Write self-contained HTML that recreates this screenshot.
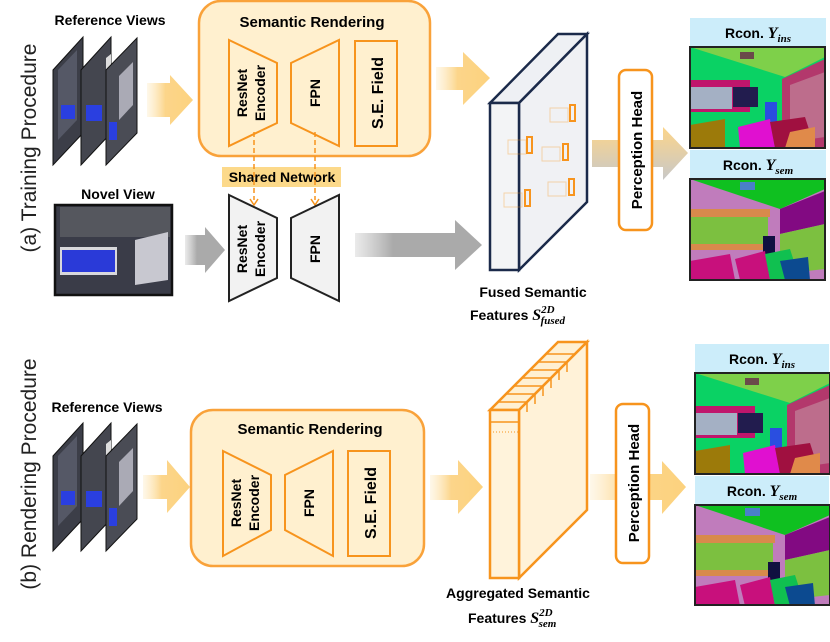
<!DOCTYPE html>
<html><head><meta charset="utf-8"><style>
html,body{margin:0;padding:0;background:#fff}
svg{display:block}
text{font-family:"Liberation Sans",sans-serif}
.b{font-weight:bold}
</style></head><body>
<svg width="830" height="642" viewBox="0 0 830 642" xmlns="http://www.w3.org/2000/svg">
<defs>
<linearGradient id="ya" x1="0" x2="1"><stop offset="0" stop-color="#fde7b8" stop-opacity="0.3"/><stop offset="0.4" stop-color="#fcd58a"/><stop offset="1" stop-color="#fcd27e"/></linearGradient>
<linearGradient id="ga" x1="0" x2="1"><stop offset="0" stop-color="#bbb" stop-opacity="0.3"/><stop offset="0.3" stop-color="#aaa"/><stop offset="1" stop-color="#aaa"/></linearGradient>
<linearGradient id="yg" x1="0" x2="0" y1="0" y2="1"><stop offset="0" stop-color="#fcd58a"/><stop offset="1" stop-color="#c8c8c8"/></linearGradient>
<g id="stack">
<polygon points="0,60 30,27 30,123 0,155" fill="#3c3e48" stroke="#111"/>
<polygon points="5,60 24,40 24,110 5,130" fill="#555866"/>
<rect x="8" y="95" width="14" height="14" fill="#2a3fe0"/>
<polygon points="28,60 58,27 58,123 28,155" fill="#44464f" stroke="#111"/>
<rect x="33" y="95" width="16" height="16" fill="#2a3fe0"/>
<polygon points="53,48 58,44 58,60 53,64" fill="#ddd"/>
<polygon points="53,60 84,28 84,123 53,155" fill="#4a4c55" stroke="#111"/>
<polygon points="66,66 80,52 80,95 66,110" fill="#aaaab5"/>
<rect x="56" y="112" width="8" height="18" fill="#2a3fe0"/>
</g>
<g id="seg1">
<rect width="135" height="101" fill="#0ad264"/>
<polygon points="0,0 135,0 135,10 95,30 0,0" fill="#7ed04a"/>
<polygon points="92,32 135,12 135,101 92,101" fill="#b3386c"/>
<polygon points="100,38 135,25 135,90 100,95" fill="#bd6d8c"/>
<rect x="0" y="33" width="60" height="32" fill="#c0166c"/>
<rect x="0" y="40" width="42" height="22" fill="#a4b0c4"/>
<rect x="43" y="40" width="25" height="20" fill="#221c4e"/>
<rect x="75" y="55" width="12" height="25" fill="#2a4ee0"/>
<polygon points="0,78 35,72 35,101 0,101" fill="#9c7a0a"/>
<polygon points="48,80 80,72 85,101 50,101" fill="#e010d0"/>
<polygon points="80,75 115,70 125,101 85,101" fill="#a01040"/>
<polygon points="100,85 125,80 125,101 95,101" fill="#e08a4a"/>
<rect x="50" y="5" width="14" height="7" fill="#6a4a4a"/>
</g>
<g id="seg2">
<rect width="135" height="101" fill="#c07cbc"/>
<polygon points="0,0 135,0 135,10 90,30 0,0" fill="#0fc020"/>
<polygon points="90,30 135,12 135,45 90,55" fill="#820a82"/>
<polygon points="90,55 135,45 135,90 90,95" fill="#7cc040"/>
<rect x="0" y="30" width="80" height="8" fill="#d88a4c"/>
<rect x="0" y="38" width="78" height="27" fill="#7cc040"/>
<rect x="0" y="65" width="78" height="6" fill="#d88a4c"/>
<rect x="73" y="57" width="12" height="22" fill="#101040"/>
<polygon points="0,82 40,75 45,101 0,101" fill="#c8107c"/>
<polygon points="45,80 75,72 80,101 50,101" fill="#c8107c"/>
<polygon points="75,75 100,70 110,101 80,101" fill="#10c050"/>
<polygon points="90,82 118,78 120,101 95,101" fill="#0c4a90"/>
<rect x="50" y="3" width="15" height="8" fill="#4a80c8"/>
</g>
</defs>

<text transform="translate(36,148) rotate(-90)" font-size="21" text-anchor="middle" fill="#222">(a) Training Procedure</text>
<text transform="translate(36,474) rotate(-90)" font-size="21" text-anchor="middle" fill="#222">(b) Rendering Procedure</text>

<text x="110" y="25" class="b" font-size="14" text-anchor="middle">Reference Views</text>
<use href="#stack" x="53" y="10"/>
<polygon points="147,83 170,83 170,75 193,100 170,125 170,117 147,117" fill="url(#ya)"/>

<rect x="199" y="1" width="231" height="155" rx="22" fill="#fff0cf" stroke="#f9a23a" stroke-width="2.5"/>
<text x="312" y="27" class="b" font-size="15" text-anchor="middle">Semantic Rendering</text>
<polygon points="229,40 277,63 277,123 229,146" fill="none" stroke="#f7941d" stroke-width="2"/>
<polygon points="291,63 339,40 339,146 291,123" fill="none" stroke="#f7941d" stroke-width="2"/>
<rect x="355" y="41" width="42" height="105" fill="none" stroke="#f7941d" stroke-width="2"/>
<text transform="translate(247,93) rotate(-90)" class="b" font-size="14" text-anchor="middle">ResNet</text>
<text transform="translate(265,93) rotate(-90)" class="b" font-size="14" text-anchor="middle">Encoder</text>
<text transform="translate(320,93) rotate(-90)" class="b" font-size="14" text-anchor="middle">FPN</text>
<text transform="translate(383,93) rotate(-90)" class="b" font-size="16" text-anchor="middle">S.E. Field</text>

<rect x="222" y="167" width="119" height="20" fill="#fcd98a"/>
<text x="282" y="182" class="b" font-size="14" text-anchor="middle">Shared Network</text>
<line x1="254" y1="132" x2="254" y2="200" stroke="#f7941d" stroke-width="1.5" stroke-dasharray="5,3"/>
<line x1="315" y1="132" x2="315" y2="200" stroke="#f7941d" stroke-width="1.5" stroke-dasharray="5,3"/>
<polyline points="250,199 254,205 258,199" fill="none" stroke="#f7941d" stroke-width="1.5"/>
<polyline points="311,199 315,205 319,199" fill="none" stroke="#f7941d" stroke-width="1.5"/>

<text x="118" y="199" class="b" font-size="14" text-anchor="middle">Novel View</text>
<rect x="55" y="205" width="117" height="90" fill="#3a3c48" stroke="#111" stroke-width="2.5"/>
<rect x="60" y="207" width="110" height="30" fill="#55575e"/>
<rect x="60" y="247" width="57" height="28" fill="#d8d8dc"/>
<rect x="62" y="250" width="53" height="22" fill="#2a3ad8"/>
<polygon points="135,240 168,232 168,280 135,285" fill="#c8c8d0"/>
<polygon points="185,235 205,235 205,227 225,250 205,273 205,265 185,265" fill="url(#ga)"/>

<polygon points="229,195 277,218 277,278 229,301" fill="#f2f2f2" stroke="#222" stroke-width="2"/>
<polygon points="291,218 339,195 339,301 291,278" fill="#f2f2f2" stroke="#222" stroke-width="2"/>
<text transform="translate(247,249) rotate(-90)" class="b" font-size="14" text-anchor="middle">ResNet</text>
<text transform="translate(265,249) rotate(-90)" class="b" font-size="14" text-anchor="middle">Encoder</text>
<text transform="translate(320,249) rotate(-90)" class="b" font-size="14" text-anchor="middle">FPN</text>

<polygon points="355,233 455,233 455,220 482,245 455,270 455,257 355,257" fill="url(#ga)"/>
<polygon points="436,67 463,67 463,52 490,78 463,105 463,90 436,90" fill="url(#ya)"/>

<polygon points="490,103 558,34 587,34 519,103" fill="#eef0f4" stroke="#1b2a4a" stroke-width="2.5"/>
<polygon points="519,103 587,34 587,202 519,270" fill="#f0f1f4" stroke="#1b2a4a" stroke-width="2.5"/>
<rect x="490" y="103" width="29" height="167" fill="#f3f4f6" stroke="#1b2a4a" stroke-width="2.5"/>
<g stroke="#f7941d" fill="none">
<rect x="508" y="140" width="18" height="14" stroke-opacity="0.35"/><rect x="527" y="137" width="5" height="16" stroke-width="2"/>
<rect x="550" y="108" width="18" height="14" stroke-opacity="0.35"/><rect x="570" y="105" width="5" height="16" stroke-width="2"/>
<rect x="542" y="147" width="18" height="14" stroke-opacity="0.35"/><rect x="563" y="144" width="5" height="16" stroke-width="2"/>
<rect x="504" y="193" width="18" height="14" stroke-opacity="0.35"/><rect x="525" y="190" width="5" height="16" stroke-width="2"/>
<rect x="548" y="182" width="18" height="14" stroke-opacity="0.35"/><rect x="569" y="179" width="5" height="16" stroke-width="2"/>
</g>
<text x="533" y="297" class="b" font-size="14" text-anchor="middle">Fused Semantic</text>
<text x="470" y="320" class="b" font-size="14">Features <tspan font-family="Liberation Serif" font-style="italic" font-size="16">S</tspan><tspan font-family="Liberation Serif" font-style="italic" font-size="11" dy="-7">2D</tspan><tspan font-family="Liberation Serif" font-style="italic" font-size="11" dx="-14" dy="11">fused</tspan></text>

<polygon points="592,140 663,140 663,127 688,153 663,180 663,167 592,167" fill="url(#yg)"/>
<rect x="619" y="70" width="33" height="160" rx="7" fill="#fff" stroke="#f7941d" stroke-width="2.5"/>
<text transform="translate(642,150) rotate(-90)" class="b" font-size="15" text-anchor="middle">Perception Head</text>

<rect x="690" y="18" width="136" height="29" fill="#ccedfa"/>
<text x="758" y="38" class="b" font-size="14" text-anchor="middle">Rcon. <tspan font-family="Liberation Serif" font-style="italic" font-size="16">Y</tspan><tspan font-family="Liberation Serif" font-style="italic" font-size="11" dy="4">ins</tspan></text>
<g transform="translate(690,47)"><use href="#seg1"/><rect width="135" height="101" fill="none" stroke="#222" stroke-width="2"/></g>
<rect x="690" y="150" width="136" height="28" fill="#ccedfa"/>
<text x="758" y="170" class="b" font-size="14" text-anchor="middle">Rcon. <tspan font-family="Liberation Serif" font-style="italic" font-size="16">Y</tspan><tspan font-family="Liberation Serif" font-style="italic" font-size="11" dy="4">sem</tspan></text>
<g transform="translate(690,179)"><use href="#seg2"/><rect width="135" height="101" fill="none" stroke="#222" stroke-width="2"/></g>

<text x="107" y="412" class="b" font-size="14" text-anchor="middle">Reference Views</text>
<use href="#stack" x="53" y="396"/>
<polygon points="143,475 167,475 167,460 190,487 167,513 167,499 143,499" fill="url(#ya)"/>

<rect x="191" y="410" width="233" height="156" rx="22" fill="#fff0cf" stroke="#f9a23a" stroke-width="2.5"/>
<text x="310" y="434" class="b" font-size="15" text-anchor="middle">Semantic Rendering</text>
<polygon points="223,451 271,475 271,530 223,556" fill="none" stroke="#f7941d" stroke-width="2"/>
<polygon points="285,475 333,451 333,556 285,530" fill="none" stroke="#f7941d" stroke-width="2"/>
<rect x="348" y="451" width="42" height="105" fill="none" stroke="#f7941d" stroke-width="2"/>
<text transform="translate(241,503) rotate(-90)" class="b" font-size="14" text-anchor="middle">ResNet</text>
<text transform="translate(259,503) rotate(-90)" class="b" font-size="14" text-anchor="middle">Encoder</text>
<text transform="translate(314,503) rotate(-90)" class="b" font-size="14" text-anchor="middle">FPN</text>
<text transform="translate(376,503) rotate(-90)" class="b" font-size="16" text-anchor="middle">S.E. Field</text>

<polygon points="430,475 458,475 458,460 483,487 458,514 458,500 430,500" fill="url(#ya)"/>

<polygon points="490,410 558,342 587,342 519,410" fill="#fff0d2" stroke="#f7941d" stroke-width="2.5"/>
<polygon points="519,410 587,342 587,510 519,578" fill="#fff2d8" stroke="#f7941d" stroke-width="2.5"/>
<rect x="490" y="410" width="29" height="168" fill="#fff3db" stroke="#f7941d" stroke-width="2.5"/>
<g stroke="#f7941d" stroke-width="1.5">
<line x1="498" y1="402" x2="527" y2="402"/><line x1="506" y1="394" x2="535" y2="394"/><line x1="514" y1="386" x2="543" y2="386"/>
<line x1="522" y1="378" x2="551" y2="378"/><line x1="530" y1="370" x2="559" y2="370"/><line x1="538" y1="362" x2="567" y2="362"/>
<line x1="546" y1="354" x2="575" y2="354"/><line x1="490" y1="422" x2="519" y2="422"/>
<line x1="527" y1="402" x2="527" y2="412"/><line x1="535" y1="394" x2="535" y2="404"/><line x1="543" y1="386" x2="543" y2="396"/>
<line x1="551" y1="378" x2="551" y2="388"/><line x1="559" y1="370" x2="559" y2="380"/><line x1="567" y1="362" x2="567" y2="372"/>
</g>
<line x1="490" y1="432" x2="519" y2="432" stroke="#f7941d" stroke-dasharray="1,2"/>
<text x="518" y="598" class="b" font-size="14" text-anchor="middle">Aggregated Semantic</text>
<text x="468" y="623" class="b" font-size="14">Features <tspan font-family="Liberation Serif" font-style="italic" font-size="16">S</tspan><tspan font-family="Liberation Serif" font-style="italic" font-size="11" dy="-7">2D</tspan><tspan font-family="Liberation Serif" font-style="italic" font-size="11" dx="-14" dy="11">sem</tspan></text>

<polygon points="590,474 662,474 662,461 686,487 662,514 662,500 590,500" fill="url(#ya)"/>
<rect x="616" y="404" width="33" height="159" rx="7" fill="#fff" stroke="#f7941d" stroke-width="2.5"/>
<text transform="translate(639,483) rotate(-90)" class="b" font-size="15" text-anchor="middle">Perception Head</text>

<rect x="695" y="344" width="134" height="29" fill="#ccedfa"/>
<text x="762" y="364" class="b" font-size="14" text-anchor="middle">Rcon. <tspan font-family="Liberation Serif" font-style="italic" font-size="16">Y</tspan><tspan font-family="Liberation Serif" font-style="italic" font-size="11" dy="4">ins</tspan></text>
<g transform="translate(695,373)"><use href="#seg1"/><rect width="135" height="101" fill="none" stroke="#222" stroke-width="2"/></g>
<rect x="695" y="476" width="134" height="28" fill="#ccedfa"/>
<text x="762" y="496" class="b" font-size="14" text-anchor="middle">Rcon. <tspan font-family="Liberation Serif" font-style="italic" font-size="16">Y</tspan><tspan font-family="Liberation Serif" font-style="italic" font-size="11" dy="4">sem</tspan></text>
<g transform="translate(695,505)"><use href="#seg2"/><rect width="135" height="100" fill="none" stroke="#222" stroke-width="2"/></g>
</svg>
</body></html>
